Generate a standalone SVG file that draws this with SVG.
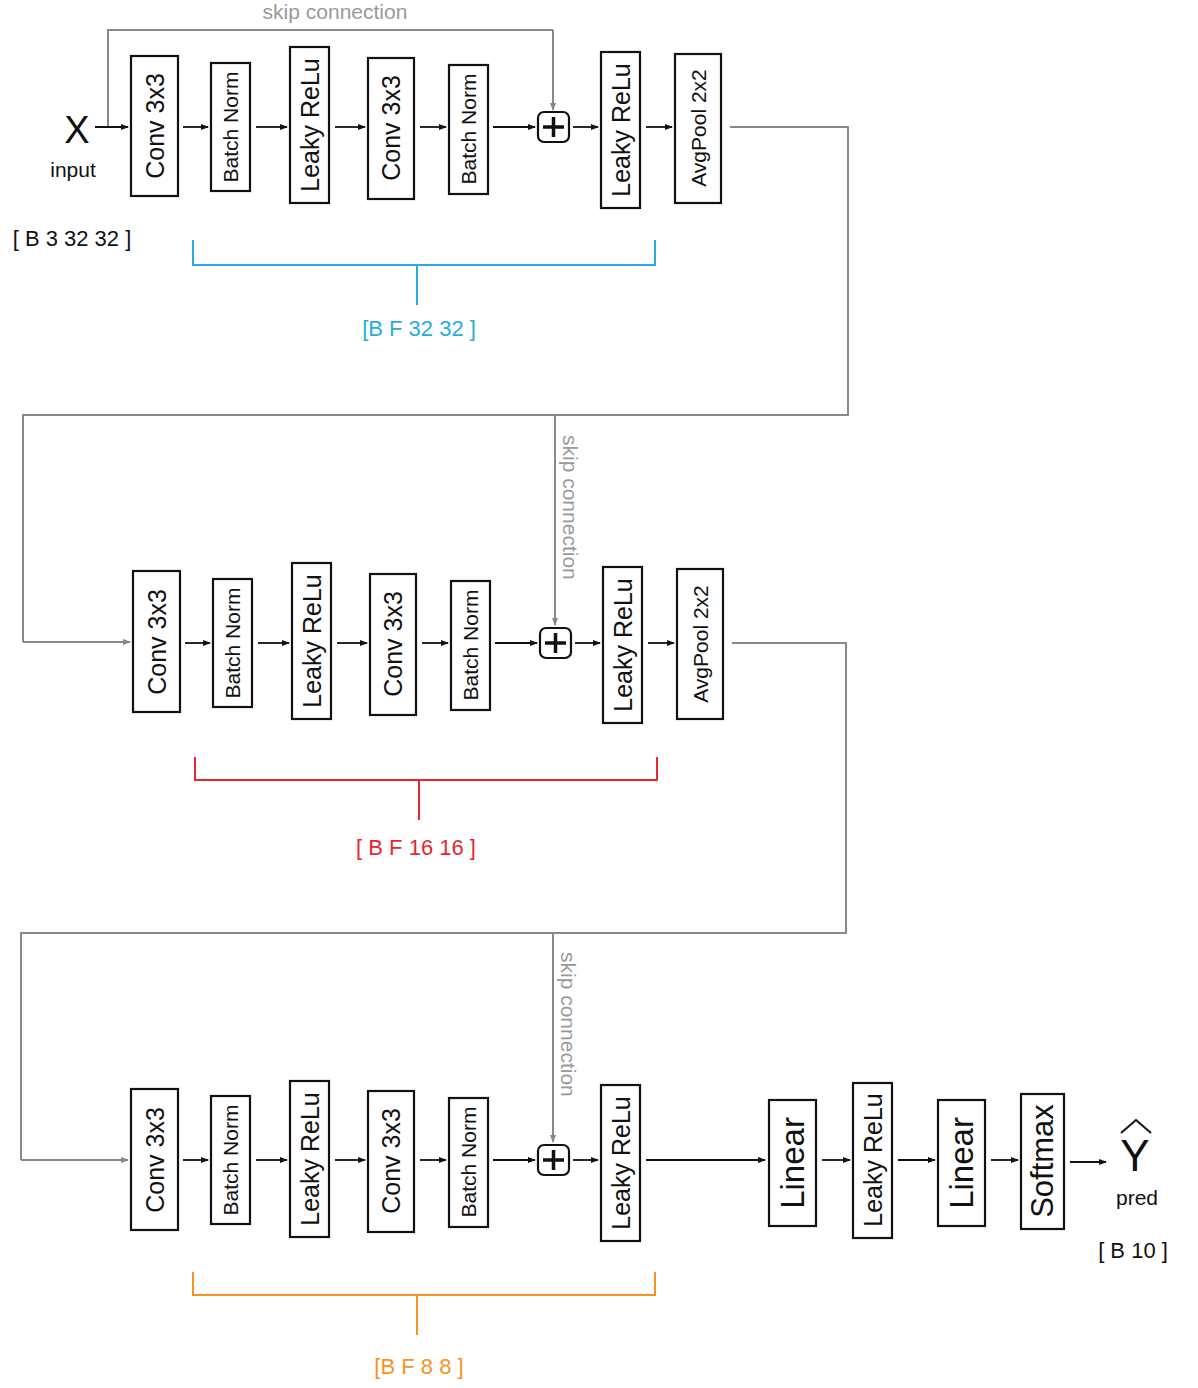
<svg xmlns="http://www.w3.org/2000/svg" width="1198" height="1388" viewBox="0 0 1198 1388">
<style>
.b{fill:#fff;stroke:#111;stroke-width:2.2}
.t{font-family:"Liberation Sans",Arial,sans-serif;fill:#111;text-anchor:middle;dominant-baseline:central}
.c{font-size:25px}.n{font-size:21px}.L{font-size:33px}
.a{stroke:#111;stroke-width:1.8;fill:none;marker-end:url(#ah)}
.g{stroke:#888;stroke-width:2;fill:none}
.ga{stroke:#888;stroke-width:2;fill:none;marker-end:url(#gh)}
.sk{font-family:"Liberation Sans",Arial,sans-serif;font-size:21px;fill:#999}
.p{fill:#fff;stroke:#111;stroke-width:2.2}
</style>
<defs>
<marker id="ah" markerWidth="8" markerHeight="8" refX="7" refY="4" orient="auto" markerUnits="userSpaceOnUse"><path d="M0,1 L8,4 L0,7 z" fill="#111"/></marker>
<marker id="gh" markerWidth="8" markerHeight="8" refX="7" refY="4" orient="auto" markerUnits="userSpaceOnUse"><path d="M0,1 L8,4 L0,7 z" fill="#888"/></marker>
</defs>
<rect width="1198" height="1388" fill="#fff"/>
<g id="connectors">
<!-- row1 -->
<path class="g" d="M108,127 V30 H553"/><path class="ga" d="M553,30 V110"/>
<text class="sk" x="335" y="19" text-anchor="middle">skip connection</text>
<path class="a" d="M95,127 H128"/><path class="a" d="M183,127 H208"/><path class="a" d="M256,127 H287"/><path class="a" d="M335,127 H365"/><path class="a" d="M420,127 H446"/><path class="a" d="M493,127 H535"/><path class="a" d="M573,127 H598"/><path class="a" d="M646,127 H672"/>
<path class="g" d="M730,127 H848 V415 H23 V642"/><path class="ga" d="M23,642 H130"/>
<path class="ga" d="M555,415 V625"/>
<text class="sk" transform="translate(563,435) rotate(90)" x="0" y="0">skip connection</text>
<!-- row2 -->
<path class="a" d="M185,643 H210"/><path class="a" d="M258,643 H289"/><path class="a" d="M337,643 H367"/><path class="a" d="M422,643 H448"/><path class="a" d="M495,643 H537"/><path class="a" d="M575,643 H600"/><path class="a" d="M648,643 H674"/>
<path class="g" d="M732,643 H846 V933 H21 V1160"/><path class="ga" d="M21,1160 H128"/>
<path class="ga" d="M553,933 V1142"/>
<text class="sk" transform="translate(561,952) rotate(90)" x="0" y="0">skip connection</text>
<!-- row3 -->
<path class="a" d="M183,1160 H208"/><path class="a" d="M256,1160 H287"/><path class="a" d="M335,1160 H365"/><path class="a" d="M420,1160 H446"/><path class="a" d="M493,1160 H535"/><path class="a" d="M573,1160 H598"/><path class="a" d="M646,1160 H765"/><path class="a" d="M822,1160 H850"/><path class="a" d="M898,1160 H935"/><path class="a" d="M991,1160 H1018"/><path class="a" d="M1070,1162 H1106"/>
<!-- brackets -->
<path d="M193,240 V265 H655 V240 M417,265 V305" stroke="#29abe2" stroke-width="2" fill="none"/>
<path d="M195,757 V780 H657 V757 M419,780 V820" stroke="#e8262f" stroke-width="2" fill="none"/>
<path d="M193,1272 V1295 H655 V1272 M417,1295 V1335" stroke="#f7941d" stroke-width="2" fill="none"/>
</g>
<g id="labels">
<text class="t" x="77" y="130" font-size="38">X</text>
<text class="t" x="73" y="169" font-size="21">input</text>
<text class="t" x="72" y="238" font-size="22">[ B 3 32 32 ]</text>
<text class="t" x="419" y="328" font-size="22" style="fill:#29abe2">[B F 32 32 ]</text>
<text class="t" x="416" y="847" font-size="22" style="fill:#e8262f">[ B F 16 16 ]</text>
<text class="t" x="419" y="1366" font-size="22" style="fill:#f7941d">[B F 8 8 ]</text>
<text class="t" x="1135" y="1155" font-size="44">Y</text>
<path d="M1121,1133 L1136,1120 L1151,1133" stroke="#111" stroke-width="2" fill="none"/>
<text class="t" x="1137" y="1197" font-size="21">pred</text>
<text class="t" x="1133" y="1250" font-size="22">[ B 10 ]</text>
</g>
<!-- row 1 -->
<g id="r1conv1"><rect class="b" x="131" y="56" width="47" height="140"/><text class="t c" transform="translate(154.5,126) rotate(-90)">Conv 3x3</text></g>
<g id="r1bn1"><rect class="b" x="211" y="63" width="39" height="128"/><text class="t n" transform="translate(230.5,127) rotate(-90)">Batch Norm</text></g>
<g id="r1lr1"><rect class="b" x="290" y="47" width="39" height="156"/><text class="t c" transform="translate(309.5,125) rotate(-90)">Leaky ReLu</text></g>
<g id="r1conv2"><rect class="b" x="368" y="58" width="46" height="141"/><text class="t c" transform="translate(391,128) rotate(-90)">Conv 3x3</text></g>
<g id="r1bn2"><rect class="b" x="449" y="65" width="39" height="129"/><text class="t n" transform="translate(468.5,129) rotate(-90)">Batch Norm</text></g>
<g id="r1plus"><rect class="p" x="538" y="112" width="31" height="30" rx="6"/><path d="M553.5,117 V137 M543,127 H564" stroke="#111" stroke-width="3.5"/></g>
<g id="r1lr2"><rect class="b" x="601" y="52" width="39" height="156"/><text class="t c" transform="translate(620.5,130) rotate(-90)">Leaky ReLu</text></g>
<g id="r1pool"><rect class="b" x="675" y="54" width="46" height="149"/><text class="t n" transform="translate(698,128) rotate(-90)">AvgPool 2x2</text></g>
<!-- row 2 -->
<g id="r2conv1"><rect class="b" x="133" y="571" width="47" height="141"/><text class="t c" transform="translate(156.5,642) rotate(-90)">Conv 3x3</text></g>
<g id="r2bn1"><rect class="b" x="213" y="579" width="39" height="128"/><text class="t n" transform="translate(232.5,643) rotate(-90)">Batch Norm</text></g>
<g id="r2lr1"><rect class="b" x="292" y="563" width="39" height="156"/><text class="t c" transform="translate(311.5,641) rotate(-90)">Leaky ReLu</text></g>
<g id="r2conv2"><rect class="b" x="370" y="574" width="46" height="141"/><text class="t c" transform="translate(393,644) rotate(-90)">Conv 3x3</text></g>
<g id="r2bn2"><rect class="b" x="451" y="581" width="39" height="129"/><text class="t n" transform="translate(470.5,645) rotate(-90)">Batch Norm</text></g>
<g id="r2plus"><rect class="p" x="540" y="628" width="31" height="30" rx="6"/><path d="M555.5,633 V653 M545,643 H566" stroke="#111" stroke-width="3.5"/></g>
<g id="r2lr2"><rect class="b" x="603" y="567" width="39" height="156"/><text class="t c" transform="translate(622.5,645) rotate(-90)">Leaky ReLu</text></g>
<g id="r2pool"><rect class="b" x="677" y="569" width="46" height="150"/><text class="t n" transform="translate(700,644) rotate(-90)">AvgPool 2x2</text></g>
<!-- row 3 -->
<g id="r3conv1"><rect class="b" x="131" y="1089" width="47" height="141"/><text class="t c" transform="translate(154.5,1160) rotate(-90)">Conv 3x3</text></g>
<g id="r3bn1"><rect class="b" x="211" y="1096" width="39" height="128"/><text class="t n" transform="translate(230.5,1160) rotate(-90)">Batch Norm</text></g>
<g id="r3lr1"><rect class="b" x="290" y="1081" width="39" height="156"/><text class="t c" transform="translate(309.5,1159) rotate(-90)">Leaky ReLu</text></g>
<g id="r3conv2"><rect class="b" x="368" y="1091" width="46" height="141"/><text class="t c" transform="translate(391,1161) rotate(-90)">Conv 3x3</text></g>
<g id="r3bn2"><rect class="b" x="449" y="1098" width="39" height="129"/><text class="t n" transform="translate(468.5,1162) rotate(-90)">Batch Norm</text></g>
<g id="r3plus"><rect class="p" x="538" y="1145" width="31" height="30" rx="6"/><path d="M553.5,1150 V1170 M543,1160 H564" stroke="#111" stroke-width="3.5"/></g>
<g id="r3lr2"><rect class="b" x="601" y="1085" width="39" height="156"/><text class="t c" transform="translate(620.5,1163) rotate(-90)">Leaky ReLu</text></g>
<g id="r3lin1"><rect class="b" x="769" y="1100" width="47" height="126"/><text class="t L" transform="translate(792.5,1163) rotate(-90)">Linear</text></g>
<g id="r3lr3"><rect class="b" x="853" y="1083" width="39" height="155"/><text class="t c" transform="translate(872.5,1160) rotate(-90)">Leaky ReLu</text></g>
<g id="r3lin2"><rect class="b" x="938" y="1100" width="47" height="126"/><text class="t L" transform="translate(961.5,1163) rotate(-90)">Linear</text></g>
<g id="r3soft"><rect class="b" x="1021" y="1094" width="43" height="135"/><text class="t" font-size="31" transform="translate(1042.5,1161) rotate(-90)">Softmax</text></g>
</svg>
